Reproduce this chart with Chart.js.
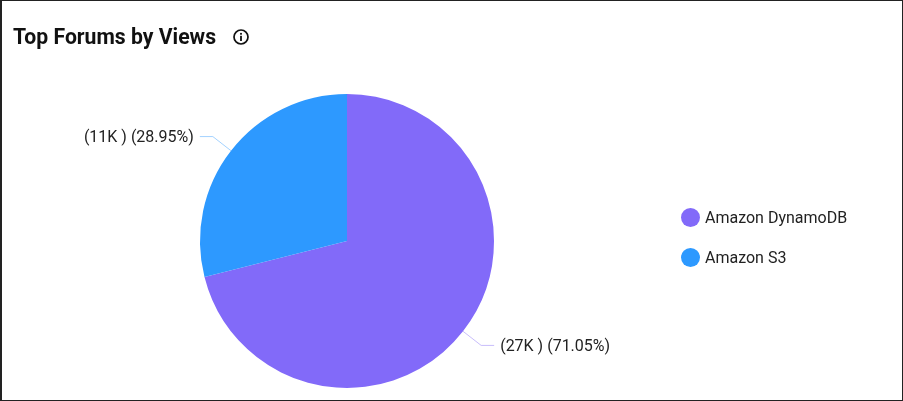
<!DOCTYPE html>
<html lang="en">
  <head>
    <meta charset="UTF-8" />
    <title>Top Forums by Views</title>
    <script src="https://cdn.jsdelivr.net/npm/chart.js"></script>
    <style>
      html, body { margin: 0; padding: 0; background: #fff; }
      #frame {
        position: relative;
        width: 903px;
        height: 401px;
        overflow: hidden;
        font-family: Roboto, sans-serif;
      }
      #frame::after {
        content: "";
        position: absolute;
        left: 0; top: 0; width: 900px; height: 399px;
        border: 1px solid #222;
        border-left-width: 2px;
        pointer-events: none;
      }
      #pie { position: absolute; left: 0; top: 0; }
      #title {
        position: absolute;
        left: 13px; top: 25px;
        font-size: 21.2px;
        line-height: 24px;
        font-weight: 700;
        color: #111;
      }
      #info { position: absolute; left: 232px; top: 27.5px; }
      #legend { position: absolute; left: 681px; top: 207px; }
      .item { display: flex; align-items: center; height: 20px; margin-bottom: 20px; font-size: 16px; color: #222; }
      .dot { width: 19px; height: 19px; border-radius: 50%; margin-right: 5px; }
    </style>
  </head>
  <body>
    <div id="frame">
      <canvas id="pie" width="903" height="401"></canvas>
      <div id="title">Top Forums by Views</div>
      <svg id="info" width="18" height="18" viewBox="0 0 18 18">
        <circle cx="9" cy="9" r="7" fill="none" stroke="#111" stroke-width="1.7" />
        <rect x="8.1" y="7.8" width="1.8" height="5.2" fill="#111" />
        <rect x="8.1" y="4.9" width="1.8" height="1.8" fill="#111" />
      </svg>
      <div id="legend"></div>
    </div>
    <script>
      const categories = ["Amazon DynamoDB", "Amazon S3"];
      const views = [27000, 11000];
      const viewLabels = ["27K", "11K"];
      const percentLabels = ["71.05%", "28.95%"];
      const colors = ["#826AF9", "#2D99FF"];
      const leaderColors = ["#C8BDFB", "#A3D2FF"];

      // html legend, the chart.js one would squeeze the pie
      const legend = document.getElementById("legend");
      categories.forEach(function (name, i) {
        const item = document.createElement("div");
        item.className = "item";
        const dot = document.createElement("span");
        dot.className = "dot";
        dot.style.background = colors[i];
        item.appendChild(dot);
        item.appendChild(document.createTextNode(name));
        legend.appendChild(item);
      });

      // leader lines and labels outside the slices
      const outsideLabels = {
        id: "outsideLabels",
        afterDatasetsDraw(chart) {
          const ctx = chart.ctx;
          chart.getDatasetMeta(0).data.forEach(function (arc, i) {
            const mid = (arc.startAngle + arc.endAngle) / 2;
            const r = arc.outerRadius;
            const x0 = arc.x + Math.cos(mid) * r;
            const y0 = arc.y + Math.sin(mid) * r;
            const x1 = arc.x + Math.cos(mid) * (r + 23);
            const y1 = arc.y + Math.sin(mid) * (r + 23);
            const side = Math.cos(mid) >= 0 ? 1 : -1;
            const x2 = x1 + side * 13;

            ctx.save();
            ctx.strokeStyle = leaderColors[i];
            ctx.lineWidth = 1;
            ctx.beginPath();
            ctx.moveTo(x0, y0);
            ctx.lineTo(x1, y1);
            ctx.lineTo(x2, y1);
            ctx.stroke();

            ctx.font = "16px Roboto, sans-serif";
            ctx.fillStyle = "#222";
            ctx.textBaseline = "middle";
            ctx.textAlign = side > 0 ? "left" : "right";
            const text = "(" + viewLabels[i] + " ) (" + percentLabels[i] + ")";
            ctx.fillText(text, x2 + side * 6, y1 + 1.5);
            ctx.restore();
          });
        },
      };

      new Chart(document.getElementById("pie"), {
        type: "pie",
        data: {
          labels: categories,
          datasets: [
            {
              data: views,
              backgroundColor: colors,
              borderWidth: 0,
            },
          ],
        },
        options: {
          responsive: false,
          animation: false,
          layout: { padding: { left: 200, right: 409, top: 94, bottom: 13 } },
          plugins: {
            legend: { display: false },
            tooltip: { enabled: false },
          },
        },
        plugins: [outsideLabels],
      });
    </script>
  </body>
</html>
